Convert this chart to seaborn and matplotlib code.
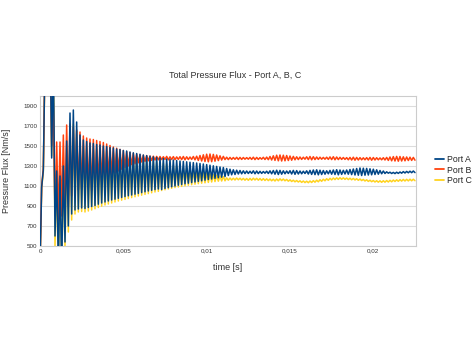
import numpy as np
import pandas as pd
import matplotlib
matplotlib.use("Agg")
import matplotlib.pyplot as plt
import seaborn as sns
from matplotlib.ticker import FixedLocator
from matplotlib.lines import Line2D

# ---------------- data ----------------
dt = 0.0001  # sampling step [s]

port_a = [
    300, 1090, 1260, 2400, 2900, 3000, 2700, 1380, 2500, 600,
    1250, 300, 1200, 250, 1300, 540, 1550, 700, 1830, 820,
    1860, 860, 1740, 870, 1610, 880, 1560, 875, 1545, 885,
    # decaying part
    1530, 895, 1525, 905, 1515, 918, 1510, 930, 1500, 940,
    1495, 950, 1485, 960, 1480, 968, 1470, 977, 1465, 985,
    1455, 994, 1450, 1002, 1440, 1010, 1432, 1018, 1425, 1026,
    1418, 1034, 1410, 1042, 1404, 1050, 1398, 1057, 1392, 1064,
    1386, 1070,
    1380, 1065, 1375, 1075, 1370, 1083, 1366, 1092, 1360, 1100,
    1355, 1108, 1350, 1115, 1346, 1122, 1342, 1128, 1338, 1134,
    1334, 1140, 1330, 1146, 1325, 1152, 1320, 1158, 1314, 1165,
    1308, 1170, 1302, 1176, 1296, 1182, 1290, 1188, 1285, 1194,
    # steady part
    1275, 1205, 1268, 1212, 1262, 1215, 1258, 1220, 1255, 1222, 1252, 1224,
    1250, 1225, 1248, 1226, 1252, 1222, 1250, 1224, 1247, 1226, 1245, 1228, 1248, 1225,
    1252, 1222, 1255, 1218, 1258, 1215, 1256, 1218, 1252, 1222, 1250, 1225, 1253, 1220,
    1256, 1217, 1254, 1220,
    1250, 1222, 1248, 1225, 1252, 1220, 1256, 1216, 1260, 1214, 1262, 1212, 1258, 1215,
    1255, 1218, 1252, 1222, 1256, 1218, 1260, 1215, 1263, 1212, 1260, 1216, 1257, 1220,
    1260, 1218, 1265, 1214, 1270, 1210, 1275, 1208, 1280, 1205, 1278, 1208,
    1276, 1210, 1272, 1212, 1268, 1215, 1262, 1218, 1255, 1222, 1250, 1225,
    1242, 1228, 1238, 1225, 1236, 1224, 1238, 1226, 1240, 1228, 1244, 1230,
    1246, 1232, 1248, 1233, 1250, 1234,
]

port_b = [
    300, 1100, 1280, 2400, 2900, 3000, 2700, 1500, 1930, 800,
    1540, 750, 1540, 800, 1610, 850, 1710, 900, 1720, 1000,
    1690, 1040, 1660, 1060, 1640, 1070, 1600, 1075, 1580, 1080,
    # decaying part
    1570, 1050, 1565, 1080, 1555, 1110, 1545, 1140, 1535, 1165,
    1520, 1190, 1505, 1210, 1490, 1230, 1478, 1250, 1466, 1268,
    1455, 1285, 1445, 1300, 1436, 1312, 1428, 1322, 1420, 1332,
    1414, 1340, 1408, 1346, 1404, 1352, 1400, 1356, 1398, 1360,
    1396, 1362,
    1395, 1364, 1393, 1366, 1396, 1362, 1392, 1365, 1394, 1363,
    1391, 1366, 1393, 1364, 1395, 1362, 1392, 1365, 1390, 1366,
    1395, 1362, 1398, 1356, 1405, 1350, 1412, 1345, 1418, 1342,
    1420, 1343, 1416, 1348, 1410, 1354, 1402, 1360, 1396, 1364,
    # steady part
    1388, 1364, 1386, 1366, 1385, 1367, 1387, 1365, 1386, 1366, 1385, 1368,
    1384, 1368, 1386, 1366, 1388, 1364, 1386, 1366, 1384, 1368, 1387, 1365, 1389, 1363,
    1395, 1360, 1402, 1356, 1408, 1352, 1410, 1350, 1408, 1352, 1405, 1355, 1400, 1358,
    1396, 1362, 1392, 1364,
    1390, 1366, 1388, 1368, 1392, 1364, 1395, 1362, 1393, 1364, 1390, 1366, 1388, 1368,
    1386, 1368, 1388, 1366, 1391, 1364, 1393, 1362, 1390, 1364, 1387, 1366, 1385, 1366,
    1384, 1362, 1386, 1360, 1388, 1358, 1386, 1360, 1384, 1362, 1382, 1362,
    1384, 1360, 1386, 1358, 1385, 1360, 1383, 1362, 1381, 1362, 1383, 1360,
    1386, 1356, 1390, 1352, 1394, 1350, 1396, 1348, 1395, 1350, 1392, 1352,
    1390, 1355, 1388, 1356, 1386, 1358,
]

port_c = [
    300, 1080, 1240, 2400, 2900, 3000, 2700, 1400, 2500, 500,
    1200, 280, 1150, 230, 1250, 480, 1480, 640, 1700, 760,
    1720, 820, 1650, 840, 1540, 845, 1500, 840, 1480, 850,
    # decaying part
    1480, 860, 1475, 872, 1468, 885, 1460, 898, 1452, 910,
    1445, 920, 1437, 930, 1430, 940, 1422, 950, 1415, 958,
    1408, 966, 1400, 975, 1392, 984, 1385, 992, 1378, 1000,
    1370, 1008, 1364, 1016, 1358, 1024, 1352, 1032, 1346, 1040,
    1340, 1046,
    1335, 1055, 1328, 1062, 1320, 1070, 1312, 1077, 1305, 1084,
    1298, 1090, 1290, 1096, 1282, 1102, 1275, 1108, 1267, 1113,
    1260, 1118, 1252, 1123, 1245, 1128, 1238, 1132, 1230, 1136,
    1222, 1140, 1215, 1144, 1208, 1148, 1200, 1150, 1195, 1152,
    # steady part
    1182, 1158, 1180, 1160, 1178, 1160, 1180, 1162, 1178, 1160, 1176, 1158,
    1175, 1157, 1176, 1158, 1178, 1160, 1177, 1158, 1175, 1156, 1174, 1155, 1172, 1154,
    1170, 1152, 1168, 1150, 1170, 1152, 1172, 1154, 1170, 1152, 1166, 1148, 1162, 1145,
    1158, 1142, 1155, 1140,
    1152, 1136, 1150, 1134, 1148, 1133, 1150, 1135, 1154, 1138, 1158, 1142, 1163, 1147,
    1168, 1152, 1173, 1157, 1177, 1161, 1180, 1164, 1182, 1166, 1183, 1167, 1182, 1166,
    1180, 1164, 1178, 1162, 1176, 1160, 1173, 1157, 1170, 1154, 1166, 1150,
    1162, 1146, 1158, 1143, 1155, 1140, 1153, 1138, 1152, 1137, 1153, 1138,
    1155, 1140, 1157, 1142, 1160, 1145, 1162, 1147, 1164, 1149, 1166, 1150,
    1167, 1151, 1168, 1152, 1168, 1153,
]

series_names = ["Port A", "Port B", "Port C"]
colors = {"Port A": "#004586", "Port B": "#ff420e", "Port C": "#ffd320"}

y_ticks = [500, 700, 900, 1100, 1300, 1500, 1700, 1900]
x_ticks = [0, 0.005, 0.01, 0.015, 0.02]
x_tick_labels = ["0", "0,005", "0,01", "0,015", "0,02"]

# ---------------- build long table ----------------
frames = []
for name, vals in zip(series_names, [port_a, port_b, port_c]):
    t = np.arange(len(vals)) * dt
    frames.append(pd.DataFrame({"time": t, "flux": vals, "series": name}))
df = pd.concat(frames, ignore_index=True)

# ---------------- plot ----------------
sns.set_theme(style="white")
plt.rcParams["font.family"] = ["Liberation Sans", "DejaVu Sans"]

fig = plt.figure(figsize=(4.74, 3.43), dpi=100)
ax = fig.add_axes([0.0844, 0.2828, 0.7932, 0.4373])

zorders = {"Port A": 4, "Port B": 3, "Port C": 2}
for name in ["Port C", "Port B", "Port A"]:
    sns.lineplot(data=df[df["series"] == name], x="time", y="flux",
                 color=colors[name], linewidth=1.1, estimator=None,
                 ax=ax, zorder=zorders[name], legend=False)

ax.set_xlim(0, 0.02256)
ax.set_ylim(500, 2000)
ax.yaxis.set_major_locator(FixedLocator(y_ticks))
ax.xaxis.set_major_locator(FixedLocator(x_ticks))
ax.set_xticklabels(x_tick_labels)
ax.tick_params(axis="both", labelsize=4.5, length=0, pad=2, colors="#333333")
ax.grid(axis="y", color="#dcdcdc", linewidth=0.8)
ax.grid(axis="x", visible=False)
for s in ax.spines.values():
    s.set_color("#cccccc")
    s.set_linewidth(0.8)

ax.set_xlabel("time [s]", fontsize=6.5, color="#333333", labelpad=7)
ax.set_ylabel("Pressure Flux [Nm/s]", fontsize=6.5, color="#333333", labelpad=9)

fig.text(0.497, 1 - 75 / 343, "Total Pressure Flux - Port A, B, C",
         ha="center", va="center", fontsize=6.5, color="#333333")

handles = [Line2D([0], [0], color=colors[n], linewidth=1.3) for n in series_names]
fig.legend(handles, series_names, loc="center left",
           bbox_to_anchor=(0.918, 1 - 170 / 343), frameon=False,
           fontsize=6.3, handlelength=1.0, handletextpad=0.3,
           labelspacing=0.2, borderaxespad=0, borderpad=0)

fig.savefig("out.png", dpi=100)
